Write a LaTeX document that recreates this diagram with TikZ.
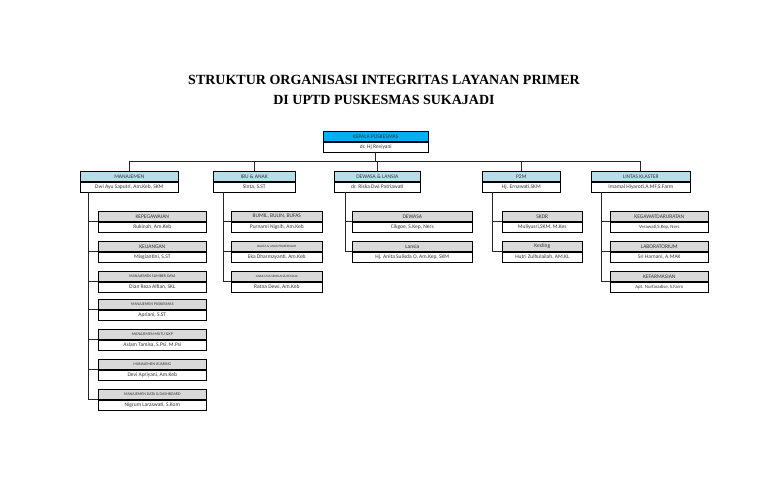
\documentclass[tikz,border=0pt]{standalone}
\usepackage{fontspec}
\setmainfont{Carlito}
\newfontfamily\titlefont{Liberation Serif}
\usetikzlibrary{shadows}
\definecolor{kepc}{RGB}{0,176,240}
\definecolor{lvc}{RGB}{183,222,232}
\definecolor{chc}{RGB}{217,217,217}
\tikzset{
  boxbase/.style={draw=black, line width=0.6pt, inner sep=0pt, anchor=north west,
    drop shadow={shadow xshift=1pt, shadow yshift=-1pt, fill=gray!60, opacity=1},
    font=\fontsize{5.5}{6}\selectfont, text=black!80},
  conn/.style={line width=0.8pt, draw=black!85}
}
% #1 name #2 x #3 y #4 width #5 fill #6 header #7 person
\newcommand\orgbox[7]{%
  \node[boxbase, fill=#5, minimum width=#4pt, minimum height=10pt] (#1-h) at (#2pt,-#3pt) {#6};
  \node[boxbase, fill=white, minimum width=#4pt, minimum height=10pt] (#1) at (#1-h.south west) {#7};
}
\newcommand\sm{\fontsize{4}{5}\selectfont}
\begin{document}
\begin{tikzpicture}[x=1pt,y=1pt]
\useasboundingbox[fill=white] (0,0) rectangle (768,-503);
\node[font=\titlefont\bfseries\fontsize{14}{16}\selectfont] (t1) at (384,-80) {STRUKTUR ORGANISASI INTEGRITAS LAYANAN PRIMER};
\node[font=\titlefont\bfseries\fontsize{14}{16}\selectfont] (t2) at (384,-100) {DI UPTD PUSKESMAS SUKAJADI};

\orgbox{kep}{323}{131}{105}{kepc}{KEPALA PUSKESMAS}{dr. Hj Reviyani}
\orgbox{man}{80}{171}{98}{lvc}{MANAJEMEN}{Dwi Ayu Saputri, Am.Keb, SKM}
\orgbox{ibu}{213}{171}{82}{lvc}{IBU \& ANAK}{Sinta, S.ST}
\orgbox{dew}{334}{171}{86}{lvc}{DEWASA \& LANSIA}{dr. Riska Dwi Patriawati}
\orgbox{p2m}{482}{171}{78}{lvc}{P2M}{Hj. Ernawati,SKM}
\orgbox{lin}{591}{171}{99}{lvc}{LINTAS KLASTER}{Imamal Hiyaroti,A.MF,S.Farm}

\coordinate (bus) at (0,-161);
\draw[conn] (kep.south) -- (kep.south|-bus);
\draw[conn] (man-h.north) -- (man-h.north|-bus) -- (lin-h.north|-bus) -- (lin-h.north);
\foreach \n in {ibu,dew,p2m} \draw[conn] (\n-h.north) -- (\n-h.north|-bus);

% Manajemen children
\orgbox{m1}{98}{211}{108}{chc}{KEPEGAWAIAN}{Rukinah, Am.Keb}
\orgbox{m2}{98}{241}{108}{chc}{KEUANGAN}{Misgiantini, S.ST}
\orgbox{m3}{98}{271}{108}{chc}{\sm MANAJEMEN SUMBER DAYA}{Dian Reza Alfian, SKL}
\orgbox{m4}{98}{299}{108}{chc}{\sm MANAJEMEN PUSKESMAS}{Apriani, S.ST}
\orgbox{m5}{98}{329}{108}{chc}{\sm MANAJEMEN MUTU \&KP}{Aslam Tamisa, S.Psi, M.Psi}
\orgbox{m6}{98}{359}{108}{chc}{\sm MANAJEMEN JEJARING}{Devi Apriyani, Am.Keb}
\orgbox{m7}{98}{389}{108}{chc}{\sm MANAJEMEN DATA \& DASHBOARD}{Nigrum Laraswati, S.Kom}
\coordinate (tm) at (88,0);
\draw[conn] (man.south-|tm) |- (m7.north west);
\foreach \c in {m1,m2,m3,m4,m5,m6} \draw[conn] (\c.north west) -- (\c.north west-|tm);

% Ibu children
\orgbox{i1}{231}{211}{91}{chc}{BUMIL, BULIN, BUFAS}{Purnami Nigsih, Am.Keb}
\orgbox{i2}{231}{241}{91}{chc}{\fontsize{3.3}{4}\selectfont BAUTA \& ANAK PRASEKOLAH}{Eka Dharmayanti, Am.Keb}
\orgbox{i3}{231}{271}{91}{chc}{\fontsize{3.3}{4}\selectfont ANAK USIA SEKOLAH\& REMAJA}{Ratna Dewi, Am.Keb}
\coordinate (ti) at (223,0);
\draw[conn] (ibu.south-|ti) |- (i3.north west);
\foreach \c in {i1,i2} \draw[conn] (\c.north west) -- (\c.north west-|ti);

% Dewasa children
\orgbox{d1}{352}{211}{120}{chc}{DEWASA}{Cikgoe, S.Kep, Ners}
\orgbox{d2}{352}{241}{120}{chc}{Lansia}{Hj. Anita Sulisda O, Am.Kep, SKM}
\coordinate (td) at (345,0);
\draw[conn] (dew.south-|td) |- (d2.north west);
\draw[conn] (d1.north west) -- (d1.north west-|td);

% P2M children
\orgbox{p1}{502}{211}{80}{chc}{SKDR}{Muliyusri,SKM, M.Kes}
\orgbox{p2}{502}{241}{80}{chc}{Kesling}{Hutri Zulhulailah, AM.KL}
\coordinate (tp) at (492,0);
\draw[conn] (p2m.south-|tp) |- (p2.north west);
\draw[conn] (p1.north west) -- (p1.north west-|tp);

% Lintas children
\orgbox{l1}{610}{211}{98}{chc}{KEGAWATDARURATAN}{\fontsize{4.8}{5}\selectfont Verawati,S.Kep, Ners}
\orgbox{l2}{610}{241}{98}{chc}{LABORATORIUM}{Sri Harnani, A.MAK}
\orgbox{l3}{610}{271}{98}{chc}{KEFARMASIAN}{\fontsize{4.8}{5}\selectfont Apt. Nurfaradise, S.Farm}
\coordinate (tl) at (601,0);
\draw[conn] (lin.south-|tl) |- (l3.north west);
\foreach \c in {l1,l2} \draw[conn] (\c.north west) -- (\c.north west-|tl);
\end{tikzpicture}
\end{document}
